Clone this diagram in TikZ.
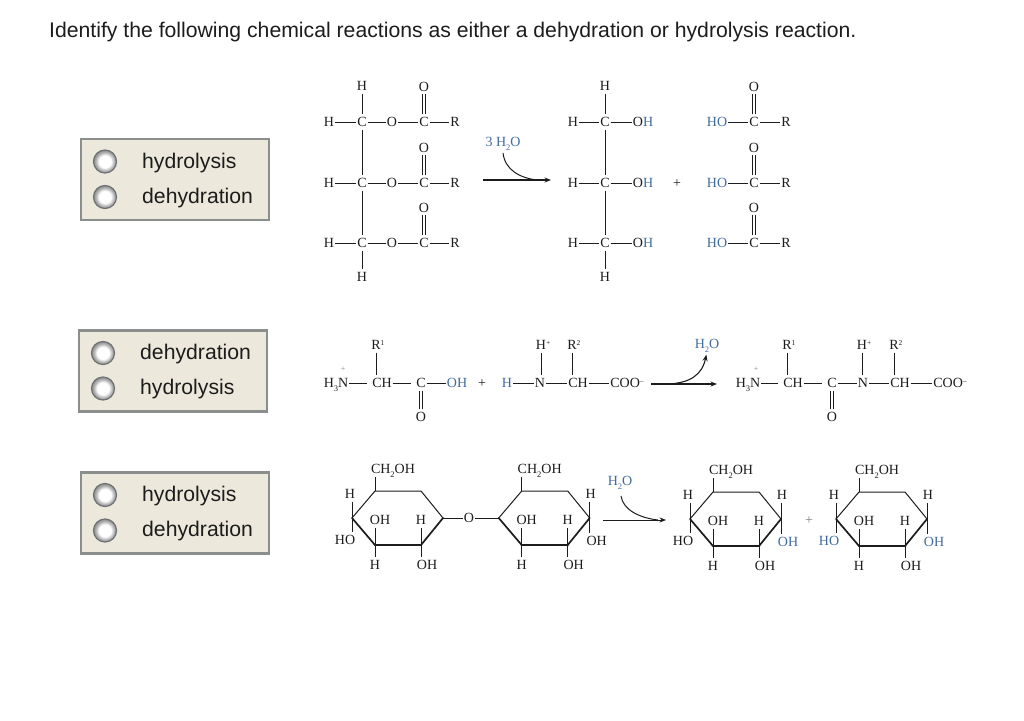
\documentclass[tikz,border=0pt]{standalone}
\usepackage{fontspec}
\setmainfont{Liberation Serif}
\newfontfamily\arialfont{Liberation Sans}
\usetikzlibrary{arrows.meta}
\definecolor{chemblack}{HTML}{1C1C1C}
\definecolor{chemblue}{HTML}{3F6C9F}
\definecolor{boxfill}{HTML}{ECE9DC}
\definecolor{boxline}{HTML}{8A8F8E}
\newcommand{\lowtwo}[1]{\raisebox{-3.5pt}{\fontsize{8.5}{8.5}\selectfont #1}}
\newcommand{\hightwo}[1]{\raisebox{4.5pt}{\fontsize{7.5}{7.5}\selectfont #1}}
\pgfdeclareradialshading{radioball}{\pgfpoint{0bp}{0bp}}{color(0bp)=(white); color(13bp)=(white); color(20bp)=(black!30); color(25bp)=(black!45); color(50bp)=(black!45)}
\tikzset{
  atom/.style={inner xsep=0.8pt, inner ysep=3pt, text height=9pt, text depth=0pt, text=chemblack, font=\fontsize{14}{14}\selectfont},
  bluatom/.style={atom, text=chemblue},
  bond/.style={draw=chemblack, line width=1pt},
  dblbond/.style={bond, double, double distance=2.2pt, line width=0.8pt},
  pbond/.style={bond, shorten >=4pt},
  rxn/.style={draw=chemblack, line width=1.1pt, >={Stealth[length=6.5pt,width=5pt]}},
  optbox/.style={draw=boxline, fill=boxfill, line width=2.2pt, minimum width=188pt, minimum height=81pt, inner sep=0pt},
  optlabel/.style={anchor=west, inner sep=0pt, text=chemblack, font=\arialfont\fontsize{21.2}{21}\selectfont},
  radiobtn/.style={circle, draw=boxline!80!black, line width=1.2pt, minimum size=23pt, inner sep=0pt, shading=radioball},
}
\begin{document}
\begin{tikzpicture}[x=1pt, y=-1pt]
\useasboundingbox (0,0) rectangle (1024,720);

\node[anchor=west, inner sep=0pt, text=chemblack, font=\arialfont\fontsize{21.2}{21}\selectfont] (title) at (49,32) {Identify the following chemical reactions as either a dehydration or hydrolysis reaction.};

% answer boxes
\foreach \n/\x/\y/\first/\second in {a/175/179.5/hydrolysis/dehydration, b/173/371/dehydration/hydrolysis, c/175/513/hydrolysis/dehydration}{
  \node[optbox] (box\n) at (\x,\y) {};
  \node[radiobtn] (rad\n1) at (\x-70,\y-18) {};
  \node[radiobtn] (rad\n2) at (\x-70,\y+17.5) {};
  \node[optlabel] (opt\n1) at (\x-33,\y-16.5) {\first};
  \node[optlabel] (opt\n2) at (\x-33,\y+18.5) {\second};
}

% triglyceride
\foreach \row/\y in {a/122, b/183, c/243}{
  \node[atom] (hl\row) at (329,\y) {H};
  \node[atom] (cl\row) at (362,\y) {C};
  \node[atom] (ol\row) at (392,\y) {O};
  \node[atom] (cr\row) at (424,\y) {C};
  \node[atom] (rr\row) at (455,\y) {R};
  \node[atom] (ou\row) at (424,\y-35.5) {O};
  \draw[bond] (hl\row) -- (cl\row);
  \draw[bond] (cl\row) -- (ol\row);
  \draw[bond] (ol\row) -- (cr\row);
  \draw[bond] (cr\row) -- (rr\row);
  \draw[dblbond] (cr\row) -- (ou\row);
}
\node[atom] (hta) at (362,86) {H};
\node[atom] (hba) at (362,277) {H};
\draw[bond] (hta) -- (cla);
\draw[bond] (cla) -- (clb);
\draw[bond] (clb) -- (clc);
\draw[bond] (clc) -- (hba);

% glycerol and acids
\foreach \row/\y in {a/122, b/183, c/243}{
  \node[atom] (ph\row) at (573,\y) {H};
  \node[atom] (pc\row) at (605,\y) {C};
  \node[atom] (po\row) at (643,\y) {O\textcolor{chemblue}{H}};
  \node[bluatom] (ho\row) at (717,\y) {HO};
  \node[atom] (ac\row) at (754,\y) {C};
  \node[atom] (ar\row) at (786,\y) {R};
  \node[atom] (au\row) at (754,\y-35.5) {O};
  \draw[bond] (ph\row) -- (pc\row);
  \draw[bond] (pc\row) -- (po\row);
  \draw[bond] (ho\row) -- (ac\row);
  \draw[bond] (ac\row) -- (ar\row);
  \draw[dblbond] (ac\row) -- (au\row);
}
\node[atom] (htp) at (605,86) {H};
\node[atom] (hbp) at (605,277) {H};
\node[atom] (plusa) at (677,183) {+};
\draw[bond] (htp) -- (pca);
\draw[bond] (pca) -- (pcb);
\draw[bond] (pcb) -- (pcc);
\draw[bond] (pcc) -- (hbp);

\node[bluatom] (watera) at (503,142) {3 H\lowtwo{2}O};
\coordinate (arra1) at (483,180);
\coordinate (arra2) at (551,180);
\coordinate (arram) at (537,180);
\draw[rxn,->] (arra1) -- (arra2);
\draw[bond] (503,153) .. controls (505,170) and (520,178) .. (arram);

% dipeptide, left side
\node[atom] (nta) at (336,383) {H\lowtwo{3}N};
\node[atom, font=\fontsize{8}{8}\selectfont, text=gray] (npa) at (343,367) {+};
\node[atom] (cha) at (382,383) {CH};
\node[atom] (rone) at (376,345) {R\rlap{\hightwo{1}}};
\node[atom] (cca) at (421,383) {C};
\node[atom] (oca) at (421,417) {O};
\node[bluatom] (oha) at (457,383) {OH};
\node[atom] (plusb) at (482,383) {+};
\node[bluatom] (hnb) at (507,383) {H};
\node[atom] (nnb) at (540,383) {N};
\node[atom] (hpb) at (541,345) {H\rlap{\hightwo{+}}};
\node[atom] (chb) at (578,383) {CH};
\node[atom] (rtwo) at (572,345) {R\rlap{\hightwo{2}}};
\node[atom] (coob) at (627,383) {COO\hightwo{--}};
\draw[pbond] (nta) -- (cha);
\draw[bond] (rone) -- (rone |- cha.north);
\draw[pbond] (cha) -- (cca);
\draw[dblbond] (cca) -- (oca);
\draw[bond] (cca) -- (oha);
\draw[bond] (hnb) -- (nnb);
\draw[bond] (hpb) -- (hpb |- nnb.north);
\draw[bond] (nnb) -- (chb);
\draw[bond] (rtwo) -- (rtwo |- chb.north);
\draw[bond] (chb) -- (coob);

\node[bluatom] (waterb) at (707,344) {H\lowtwo{2}O};
\coordinate (arrb1) at (651,384);
\coordinate (arrb2) at (717,384);
\coordinate (arrbm) at (668,384);
\draw[rxn,->] (arrb1) -- (arrb2);
\draw[rxn,->,shorten >=3pt] (arrbm) .. controls (690,383) and (702,375) .. (waterb.south);

% dipeptide, product
\node[atom] (ntc) at (748,383) {H\lowtwo{3}N};
\node[atom, font=\fontsize{8}{8}\selectfont, text=gray] (npc) at (756,367) {+};
\node[atom] (chc) at (793,383) {CH};
\node[atom] (rthree) at (787,345) {R\rlap{\hightwo{1}}};
\node[atom] (ccc) at (832,383) {C};
\node[atom] (occ) at (832,417) {O};
\node[atom] (nnc) at (863,383) {N};
\node[atom] (hpc) at (862,345) {H\rlap{\hightwo{+}}};
\node[atom] (chd) at (900,383) {CH};
\node[atom] (rfour) at (894,345) {R\rlap{\hightwo{2}}};
\node[atom] (cood) at (950,383) {COO\hightwo{--}};
\draw[pbond] (ntc) -- (chc);
\draw[bond] (rthree) -- (rthree |- chc.north);
\draw[pbond] (chc) -- (ccc);
\draw[dblbond] (ccc) -- (occ);
\draw[bond] (ccc) -- (nnc);
\draw[bond] (nnc) -- (chd);
\draw[bond] (hpc) -- (hpc |- nnc.north);
\draw[bond] (rfour) -- (rfour |- chd.north);
\draw[bond] (chd) -- (cood);

% sugar rings
\foreach \s/\x/\y in {a/375/491, b/521.7/491, c/713/492, d/859/492}{
  \coordinate (\s1) at (\x,\y);
  \coordinate (\s2) at (\x+46,\y);
  \coordinate (\s3) at (\x+68,\y+27);
  \coordinate (\s4) at (\x+46,\y+54);
  \coordinate (\s5) at (\x,\y+54);
  \coordinate (\s6) at (\x-23,\y+27);
  \node[atom] (\s ch) at (\x+18,\y-22) {CH\lowtwo{2}OH};
  \node[atom] (\s ohin) at (\x+5,\y+29) {OH};
  \node[atom] (\s hin) at (\x+46,\y+29) {H};
  \node[atom] (\s hbot) at (\x,\y+74) {H};
  \node[atom] (\s ohbot) at (\x+52,\y+74) {OH};
  \draw[bond] (\s6) -- (\s1) -- (\s2) -- (\s3);
  \draw[draw=chemblack, line width=1.7pt, line cap=round] (\s6) -- (\s5);
  \draw[draw=chemblack, line width=1.7pt, line cap=round] (\s4) -- (\s3);
  \draw[draw=chemblack, line width=2.6pt, line cap=round] (\s5) -- (\s4);
  \draw[bond] (\s1) -- (\s1 |- \s ch.south);
  \draw[bond] (\s5) -- (\s5 |- \s ohin.south);
  \draw[bond] (\s5) -- (\s5 |- \s hbot.north);
  \draw[bond] (\s4) -- (\s4 |- \s hin.south);
  \draw[bond] (\s4) -- (\s4 |- \s ohbot.north);
}
\foreach \s/\x/\y/\col in {a/375/491/chemblack, c/713/492/chemblack, d/859/492/chemblue}{
  \node[atom] (\s hl) at (\x-25,\y+3) {H};
  \node[atom, text=\col] (\s ol) at (\x-30,\y+49) {HO};
  \draw[bond] (\s6) -- (\s6 |- \s hl.south);
  \draw[bond] (\s6) -- (\s6 |- \s ol.north);
}
\foreach \s/\x/\y/\col in {b/521.7/491/chemblack, c/713/492/chemblue, d/859/492/chemblue}{
  \node[atom] (\s hr) at (\x+69,\y+3) {H};
  \node[atom, text=\col] (\s or) at (\x+75,\y+50) {OH};
  \draw[bond] (\s3) -- (\s3 |- \s hr.south);
  \draw[bond] (\s3) -- (\s3 |- \s or.north);
}
\node[atom] (olink) at (469,518) {O};
\draw[bond] (a3) -- (olink);
\draw[bond] (olink) -- (b6);
\node[atom, text=gray] (plusc) at (809,520) {+};

\node[bluatom] (waterc) at (620,481) {H\lowtwo{2}O};
\coordinate (arrc1) at (603,520);
\coordinate (arrc2) at (666,520);
\coordinate (arrcm) at (658,520);
\draw[rxn,->,line width=0.8pt] (arrc1) -- (arrc2);
\draw[bond] (621,496) .. controls (623,510) and (640,518) .. (arrcm);
\end{tikzpicture}
\end{document}
